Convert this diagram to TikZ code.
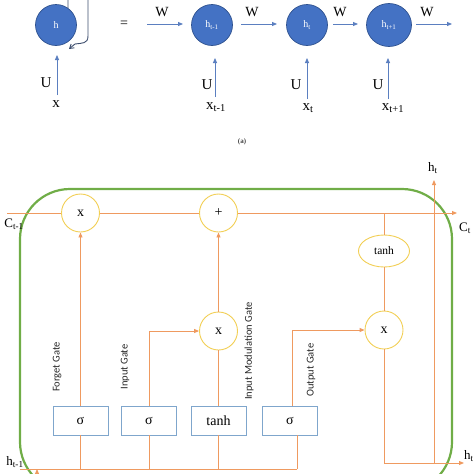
\documentclass[tikz,border=0pt]{standalone}
\usepackage{fontspec}
\setmainfont{Liberation Serif}
\newfontfamily\gatefont{Carlito}
\usetikzlibrary{arrows.meta,shapes.geometric}
\definecolor{cblue}{HTML}{4472C4}
\definecolor{cbluedark}{HTML}{2F528F}
\definecolor{carrow}{HTML}{5B7FC0}
\definecolor{corange}{HTML}{EF9A60}
\definecolor{cyellow}{HTML}{F2CF55}
\definecolor{cgreen}{HTML}{70AD47}
\definecolor{cbox}{HTML}{7FA6CC}
\definecolor{cloop}{HTML}{3E4E6E}
\begin{document}
\begin{tikzpicture}[x=1pt,y=-1pt,
  rnn/.style={circle,fill=cblue,draw=cbluedark,line width=0.7pt,minimum size=41pt,inner sep=0pt,text=white,font=\fontsize{10}{10}\selectfont},
  barr/.style={draw=carrow,line width=0.8pt,-{Triangle[length=5pt,width=4pt]}},
  lbl/.style={inner sep=0pt,font=\fontsize{14}{14}\selectfont},
  opc/.style={circle,draw=cyellow,line width=0.9pt,fill=white,minimum size=38pt,inner sep=0pt,font=\fontsize{14}{14}\selectfont},
  gbox/.style={draw=cbox,line width=0.9pt,fill=white,minimum width=55pt,minimum height=29pt,inner sep=0pt,font=\fontsize{14}{14}\selectfont},
  oline/.style={draw=corange,line width=0.9pt},
  oarr/.style={draw=corange,line width=0.9pt,-{Triangle[length=5pt,width=4pt]}},
  gate/.style={rotate=90,inner sep=0pt,text=black!85,font=\gatefont\fontsize{10.5}{10.5}\selectfont}
]
\useasboundingbox (0,0) rectangle (474,474);

% ---------- (a) unrolled RNN ----------
\node[rnn] (h) at (56,25) {h};
\node[rnn] (h1) at (212,25) {h\textsubscript{t-1}};
\node[rnn] (h2) at (307,25) {h\textsubscript{t}};
\node[rnn,ellipse,minimum width=45pt,minimum height=43pt] (h3) at (389,25) {h\textsubscript{t+1}};

% self loop
\draw[cloop,line width=0.9pt,-{Straight Barb[length=4pt,width=5pt]}]
  (68,8) -- (68,-4) .. controls (68,-14) and (88,-14) .. (88,-4) -- (88,36)
  .. controls (88,44) and (82,43) .. (75,44) -- (69,49);

\node[lbl] (eq) at (124,24) {=};

\coordinate (w1s) at (147,24);
\coordinate (w1e) at (183,24);
\draw[barr] (w1s) -- (w1e);
\node[lbl] (W1) at (162,12) {W};
\coordinate (w2s) at (241,24);
\coordinate (w2e) at (277,24);
\draw[barr] (w2s) -- (w2e);
\node[lbl] (W2) at (252,12) {W};
\coordinate (w3s) at (333,24);
\coordinate (w3e) at (358,24);
\draw[barr] (w3s) -- (w3e);
\node[lbl] (W3) at (340,12) {W};
\coordinate (w4s) at (416,24);
\coordinate (w4e) at (452,24);
\draw[barr] (w4s) -- (w4e);
\node[lbl] (W4) at (427,12) {W};

% inputs
\coordinate (u0) at (57,95);
\coordinate (u0e) at (57,55);
\draw[barr] (u0) -- (u0e);
\node[lbl,font=\fontsize{15}{15}\selectfont] (U0) at (46,83) {U};
\node[lbl,font=\fontsize{15}{15}\selectfont] (x0) at (56,104) {x};

\coordinate (u1) at (215,97);
\coordinate (u1e) at (215,58);
\draw[barr] (u1) -- (u1e);
\node[lbl,font=\fontsize{15}{15}\selectfont] (U1) at (207,85) {U};
\node[lbl,font=\fontsize{15}{15}\selectfont] (x1) at (216,107) {x\textsubscript{t-1}};

\coordinate (u2) at (307,99);
\coordinate (u2e) at (307,58);
\draw[barr] (u2) -- (u2e);
\node[lbl,font=\fontsize{15}{15}\selectfont] (U2) at (296,85) {U};
\node[lbl,font=\fontsize{15}{15}\selectfont] (x2) at (308,108) {x\textsubscript{t}};

\coordinate (u3) at (388,99);
\coordinate (u3e) at (388,58);
\draw[barr] (u3) -- (u3e);
\node[lbl,font=\fontsize{15}{15}\selectfont] (U3) at (378,85) {U};
\node[lbl,font=\fontsize{15}{15}\selectfont] (x3) at (393,108) {x\textsubscript{t+1}};

\node[inner sep=0pt,text=black!75,font=\bfseries\fontsize{7}{7}\selectfont] (cap) at (242,142) {(a)};

% ---------- LSTM cell ----------
\draw[cgreen,line width=2.2pt,rounded corners=50pt] (20,189) rectangle (452,492);

\node[opc] (fx) at (80.5,213) {x};
\node[opc] (plus) at (218.5,213) {+};
\node[opc] (mx) at (218.5,331) {x};
\node[opc] (ox) at (384,330) {x};
\node[ellipse,draw=cyellow,line width=0.9pt,fill=white,minimum width=51pt,minimum height=32pt,inner sep=0pt,font=\fontsize{11.5}{11.5}\selectfont] (te) at (384,251) {tanh};

\node[gbox] (b1) at (80.5,420.5) {σ};
\node[gbox] (b2) at (149,420.5) {σ};
\node[gbox] (b3) at (218.5,420.5) {tanh};
\node[gbox] (b4) at (290,420.5) {σ};

% cell state
\coordinate (cin) at (7,213);
\coordinate (cout) at (457,213);
\coordinate (ctap) at (384,213);
\draw[oline] (cin) -- (fx.west);
\draw[oline] (fx.east) -- (plus.west);
\draw[oarr] (plus.east) -- (cout);
\draw[oline] (ctap) -- (te.north);
\draw[oline] (te.south) -- (ox.north);

% gates
\draw[oarr] (b1.north) -- (fx.south);
\draw[oarr] (b2.north) |- (mx.west);
\draw[oline] (b3.north) -- (mx.south);
\draw[oarr] (mx.north) -- (plus.south);
\draw[oarr] ([xshift=2pt]b4.north) |- (ox.west);

% output
\coordinate (ocorner) at (384,463);
\coordinate (hout) at (464,463);
\coordinate (hup0) at (434,463);
\coordinate (hup) at (434,180);
\draw[oarr] (ox.south) -- (ocorner) -- (hout);
\draw[oarr] (hup0) -- (hup);

% bottom h_{t-1} line
\coordinate (hl) at (20,469);
\coordinate (hr) at (297,469);
\draw[oline] (hl) -- (hr);
\draw[oline] (b1.south) -- (b1.south |- hl);
\draw[oline] (b2.south) -- (b2.south |- hl);
\draw[oline] (b3.south) -- (b3.south |- hl);
\draw[oline] (hr) -- (hr |- b4.south);
\coordinate (xin) at (37,482);
\coordinate (xine) at (37,469);
\draw[oarr] (xin) -- (xine);

% labels
\node[lbl,font=\fontsize{13}{13}\selectfont] (lc1) at (14,224) {C\textsubscript{t-1}};
\node[lbl,font=\fontsize{13}{13}\selectfont] (lc2) at (465,228) {C\textsubscript{t}};
\node[lbl,font=\fontsize{13}{13}\selectfont] (lht) at (433,168) {h\textsubscript{t}};
\node[lbl,font=\fontsize{13}{13}\selectfont] (lht2) at (469,456) {h\textsubscript{t}};
\node[lbl,font=\fontsize{13}{13}\selectfont] (lh1) at (15,462) {h\textsubscript{t-1}};

\node[gate] (g1) at (57,367) {Forget Gate};
\node[gate] (g2) at (125,367) {Input Gate};
\node[gate] (g3) at (249,351) {Input Modulation Gate};
\node[gate] (g4) at (311,370) {Output Gate};
\end{tikzpicture}
\end{document}
